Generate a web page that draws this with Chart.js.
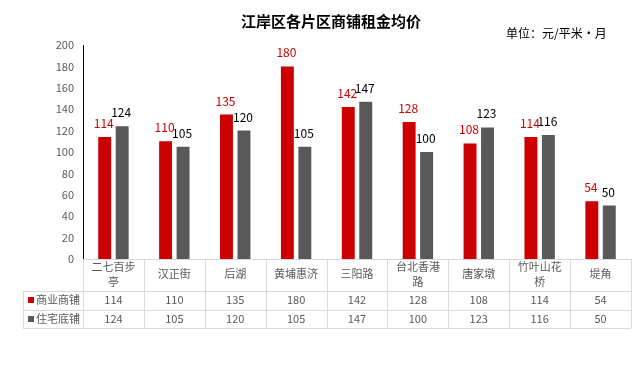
<!DOCTYPE html>
<html>
<head>
<meta charset="utf-8">
<script src="https://cdn.jsdelivr.net/npm/chart.js@4/dist/chart.umd.min.js"></script>
<style>
  body { margin: 0; background: #fff; }
  #wrap { width: 644px; height: 366px; }
</style>
</head>
<body>
<div id="wrap"><canvas id="chart" width="644" height="366"></canvas></div>
<script>
// data
var categories = ["二七百步亭", "汉正街", "后湖", "黄埔惠济", "三阳路", "台北香港路", "唐家墩", "竹叶山花桥", "堤角"];
var shangye = [114, 110, 135, 180, 142, 128, 108, 114, 54];
var zhuzhai = [124, 105, 120, 105, 147, 100, 123, 116, 50];
var seriesNames = ["商业商铺", "住宅底铺"];
var colors = ["#CC0000", "#595959"];
var labelColors = ["#CC0000", "#000000"];
var titleText = "江岸区各片区商铺租金均价";
var unitText = "单位：元/平米·月";

var FONT = "'Noto Sans CJK SC', 'Noto Sans', sans-serif";

// title, bar values and the data table under the plot
var tablePlugin = {
  id: "tablePlugin",
  afterDraw: function (chart) {
    var ctx = chart.ctx;
    var area = chart.chartArea;
    var xs = chart.scales.x;
    ctx.save();

    ctx.fillStyle = "#000";
    ctx.textAlign = "center";
    ctx.textBaseline = "middle";
    ctx.font = "bold 15px " + FONT;
    ctx.fillText(titleText, 331, 21);
    ctx.font = "12px " + FONT;
    ctx.textAlign = "left";
    ctx.fillText(unitText, 506, 33);

    // value labels
    ctx.font = "12px " + FONT;
    ctx.textAlign = "center";
    ctx.textBaseline = "alphabetic";
    chart.data.datasets.forEach(function (ds, di) {
      var meta = chart.getDatasetMeta(di);
      ctx.fillStyle = labelColors[di];
      meta.data.forEach(function (bar, i) {
        ctx.fillText(ds.data[i], bar.x - 1, bar.y - 9);
      });
    });

    // table
    var step = (area.right - area.left) / categories.length;
    var top = area.bottom, r0 = 291, r1 = 310, r2 = 328;
    var left = 23;
    ctx.strokeStyle = "#D9D9D9";
    ctx.lineWidth = 1;
    ctx.beginPath();
    ctx.moveTo(area.left, top + 0.5); ctx.lineTo(area.right, top + 0.5);
    [r0, r1, r2].forEach(function (y) {
      ctx.moveTo(left, y + 0.5); ctx.lineTo(area.right, y + 0.5);
    });
    ctx.moveTo(left + 0.5, r0); ctx.lineTo(left + 0.5, r2);
    for (var i = 0; i <= categories.length; i++) {
      var x = Math.round(area.left + i * step) + 0.5;
      ctx.moveTo(x, top); ctx.lineTo(x, r2);
    }
    ctx.stroke();

    ctx.fillStyle = "#595959";
    ctx.textBaseline = "middle";
    ctx.font = "11px " + FONT;
    categories.forEach(function (c, i) {
      var cx = xs.getPixelForValue(i);
      var lines = c.length > 4 ? [c.slice(0, 4), c.slice(4)] : [c];
      if (lines.length === 1) {
        ctx.fillText(c, cx, 274);
      } else {
        ctx.fillText(lines[0], cx, 267);
        ctx.fillText(lines[1], cx, 282);
      }
      ctx.fillText(shangye[i], cx, 300);
      ctx.fillText(zhuzhai[i], cx, 319);
    });

    // legend keys in the table
    ctx.textAlign = "left";
    [300, 319].forEach(function (y, k) {
      ctx.fillStyle = colors[k];
      ctx.fillRect(28, y - 3, 6, 6);
      ctx.fillStyle = "#595959";
      ctx.fillText(seriesNames[k], 36, y);
    });
    ctx.restore();
  }
};

new Chart(document.getElementById("chart").getContext("2d"), {
  type: "bar",
  data: {
    labels: categories,
    datasets: [
      { label: seriesNames[0], data: shangye, backgroundColor: colors[0] },
      { label: seriesNames[1], data: zhuzhai, backgroundColor: colors[1] }
    ]
  },
  options: {
    responsive: false,
    animation: false,
    categoryPercentage: 0.574,
    barPercentage: 0.74,
    layout: { padding: { left: 0, right: 13, top: 45, bottom: 107 } },
    plugins: { legend: { display: false }, tooltip: { enabled: false } },
    scales: {
      x: { display: false },
      y: {
        min: 0, max: 200,
        afterFit: function (s) { s.width = 83; },
        ticks: { stepSize: 20, color: "#595959", font: { size: 11, family: FONT }, padding: 5 },
        grid: { display: false, drawOnChartArea: false, drawTicks: true, tickLength: 4, color: "#000" },
        border: { display: true, color: "#000", width: 1 }
      }
    }
  },
  plugins: [tablePlugin]
});
</script>
</body>
</html>
